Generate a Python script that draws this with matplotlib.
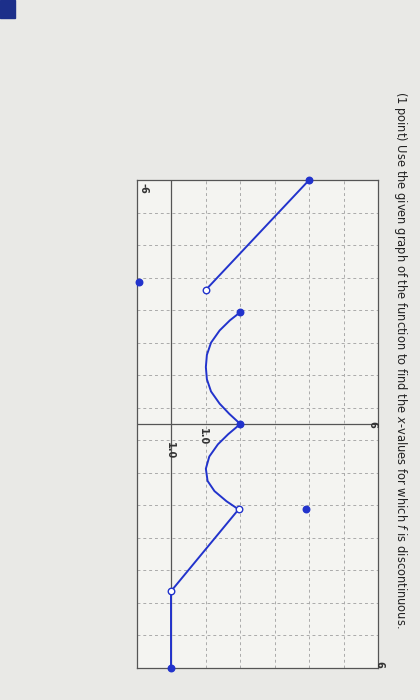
import matplotlib
matplotlib.use("Agg")
import matplotlib.pyplot as plt
import numpy as np

# function pieces: (x, y)
line1_x = [-6.0, -3.3]; line1_y = [4.0, 1.0]
tail_x = [-3.5, -3.35, -3.2, -3.0]; tail_y = [-0.95, -1.03, -1.1, -1.2]
arc1_x = [-2.75, -2.55, -2.3, -2.0, -1.7, -1.4, -1.1, -0.8, -0.5, -0.25, 0.0]
arc1_y = [2.0, 1.7, 1.4, 1.15, 1.03, 1.0, 1.03, 1.15, 1.4, 1.68, 2.0]
arc2_x = [0.0, 0.25, 0.5, 0.8, 1.1, 1.4, 1.65, 1.9, 2.1]
arc2_y = [2.0, 1.65, 1.35, 1.1, 1.0, 1.05, 1.25, 1.6, 1.95]
line2_x = [2.1, 4.1]; line2_y = [1.95, 0.0]
line3_x = [4.1, 6.0]; line3_y = [0.0, 0.0]
filled_x = [-6.0, -3.5, -2.75, 0.0, 2.1, 6.0]
filled_y = [4.0, -0.95, 2.0, 2.0, 3.9, 0.0]
open_x = [-3.3, 2.1, 4.1]
open_y = [1.0, 1.95, 0.0]

BLUE = "#2233cc"
fig = plt.figure(figsize=(4.2, 7), dpi=100)
fig.patch.set_facecolor("#e9e9e6")
ax = fig.add_axes([137/420, 1-668/700, 241/420, 488/700])
ax.set_facecolor("#f4f4f1")
for xs, ys in [(line1_x, line1_y), (tail_x, tail_y), (arc1_x, arc1_y),
               (arc2_x, arc2_y), (line2_x, line2_y), (line3_x, line3_y)]:
    ax.plot(ys, xs, color=BLUE, lw=1.4, zorder=3)
ax.scatter(filled_y, filled_x, s=22, color=BLUE, zorder=4, clip_on=False)
ax.scatter(open_y, open_x, s=22, facecolor="white", edgecolor=BLUE, lw=1, zorder=4)
ax.set_xlim(-1, 6)
ax.set_ylim(6, -6)
for v in range(-1, 7):
    ax.axvline(v, color="#aaaaaa", ls=(0, (3, 3)), lw=0.7, zorder=1)
for v in np.linspace(-6, 6, 16):
    ax.axhline(v, color="#aaaaaa", ls=(0, (3, 3)), lw=0.7, zorder=1)
ax.axvline(0, color="#555555", lw=0.9, zorder=2)
ax.axhline(0, color="#555555", lw=0.9, zorder=2)
ax.set_xticks([]); ax.set_yticks([])
for s in ax.spines.values():
    s.set_color("#555555"); s.set_linewidth(0.9)
kw = dict(rotation=-90, fontsize=7, color="#333333", ha="center", va="center", fontweight="bold")
ax.text(0.92, 0.31, "1.0", **kw)
ax.text(-0.05, 0.65, "1.0", **kw)
ax.text(5.85, 0.0, "6", **kw)
ax.text(-0.8, -5.8, "-6", **kw)
ax.text(6.05, 5.9, "6", **kw)
fig.text(400/420, 1-360/700, r"(1 point) Use the given graph of the function to find the $x$-values for which $f$ is discontinuous.",
         rotation=-90, fontsize=8.3, color="#222222", ha="center", va="center")
fig.patches.append(plt.Rectangle((0, 1-18/700), 15/420, 18/700, transform=fig.transFigure, color="#1c2f8a"))
fig.savefig("out.png")
